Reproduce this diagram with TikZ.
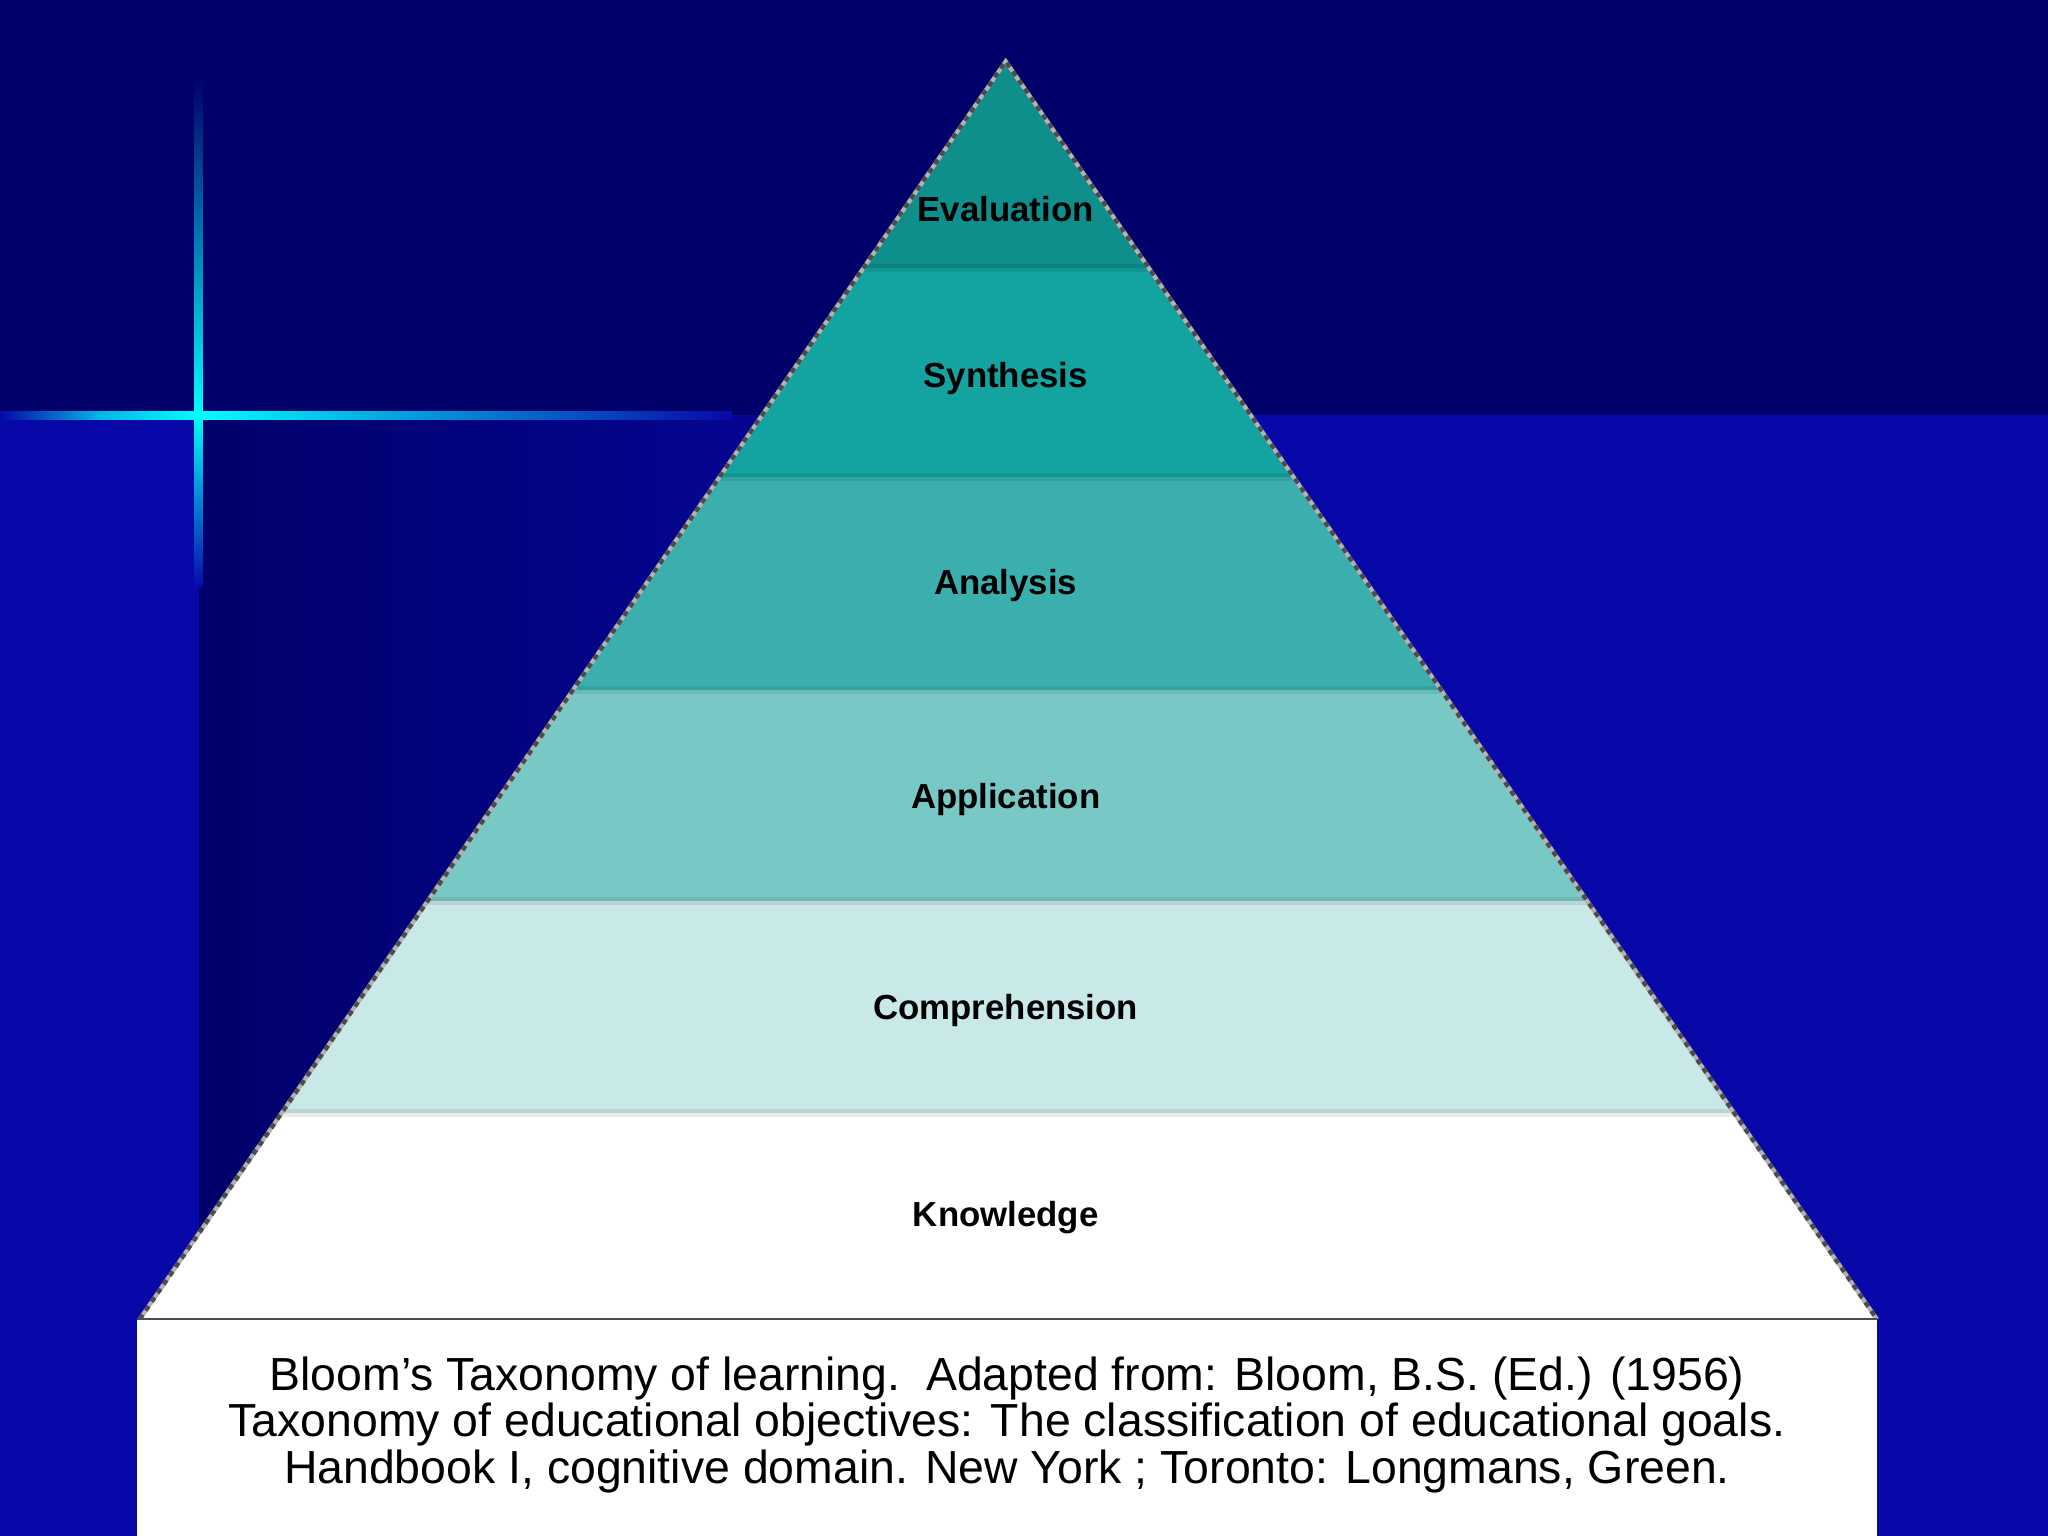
\documentclass[tikz,border=0pt]{standalone}
\usepackage{fontspec}
\setmainfont{Liberation Sans}
\begin{document}
\begin{tikzpicture}[x=0.013061cm,y=-0.013061cm,
  lbl/.style={font=\bfseries\fontsize{9.9}{12}\selectfont, text=black},
  band/.style={draw=none}]
\definecolor{navy}{HTML}{00006A}
\definecolor{blu}{HTML}{0808A8}
\definecolor{c1}{HTML}{0E8F8C}
\definecolor{c2}{HTML}{13A3A0}
\definecolor{c3}{HTML}{3AAFAE}
\definecolor{c4}{HTML}{78C8C6}
\definecolor{c5}{HTML}{C9E8E8}
\useasboundingbox (0,0) rectangle (1568,1176);
\fill[navy] (0,0) rectangle (1568,1176);
\fill[blu] (0,318) rectangle (1568,1176);
\shade[left color=navy,right color=blu] (152,318) rectangle (800,1176);
\fill[blu] (0,318) rectangle (152,1176);
% glow cross
\shade[left color=blu,right color=cyan,middle color=cyan!70!blu] (0,315) rectangle (152,321);
\shade[left color=cyan,right color=blu] (152,315) rectangle (560,321);
\shade[top color=navy,bottom color=cyan] (149,60) rectangle (155,318);
\shade[top color=cyan,bottom color=blu] (149,318) rectangle (155,450);
% pyramid
\coordinate (A) at (770,47);
\coordinate (L) at (107,1010);
\coordinate (R) at (1437,1010);
\begin{scope}
\clip (A) -- (L) -- (R) -- cycle;
\fill[c1] (0,0) rectangle (1568,205);
\fill[c2] (0,205) rectangle (1568,365);
\fill[c3] (0,365) rectangle (1568,528);
\fill[c4] (0,528) rectangle (1568,690);
\fill[c5] (0,690) rectangle (1568,852);
\fill[white] (0,852) rectangle (1568,1010);
\foreach \y in {205,365,528,690,852}
  \fill[black,opacity=0.08] (0,\y-3) rectangle (1568,\y+3);
\end{scope}
\draw[gray!60, line width=1.2pt] (L) -- (A) -- (R);
\draw[black!70, line width=1.2pt, dash pattern=on 1.5pt off 1.5pt] (L) -- (A) -- (R);
\node[lbl] (ev) at (770,160) {Evaluation};
\node[lbl] (sy) at (770,290) {Synthesis};
\node[lbl] (an) at (770,448) {Analysis};
\node[lbl] (ap) at (770,612) {Application};
\node[lbl] (co) at (770,774) {Comprehension};
\node[lbl] (kn) at (770,932) {Knowledge};
\fill[white] (105,1010) rectangle (1437,1176);
\draw[black!70] (105,1010) -- (1437,1010);
\node[align=center, font=\fontsize{13.2}{12.3}\selectfont, text=black] (cap) at (771,1091)
 {Bloom’s Taxonomy of learning.\ \ Adapted from: Bloom, B.S. (Ed.) (1956)\\
  Taxonomy of educational objectives: The classification of educational goals.\\
  Handbook I, cognitive domain. New York ; Toronto: Longmans, Green.};
\end{tikzpicture}
\end{document}
